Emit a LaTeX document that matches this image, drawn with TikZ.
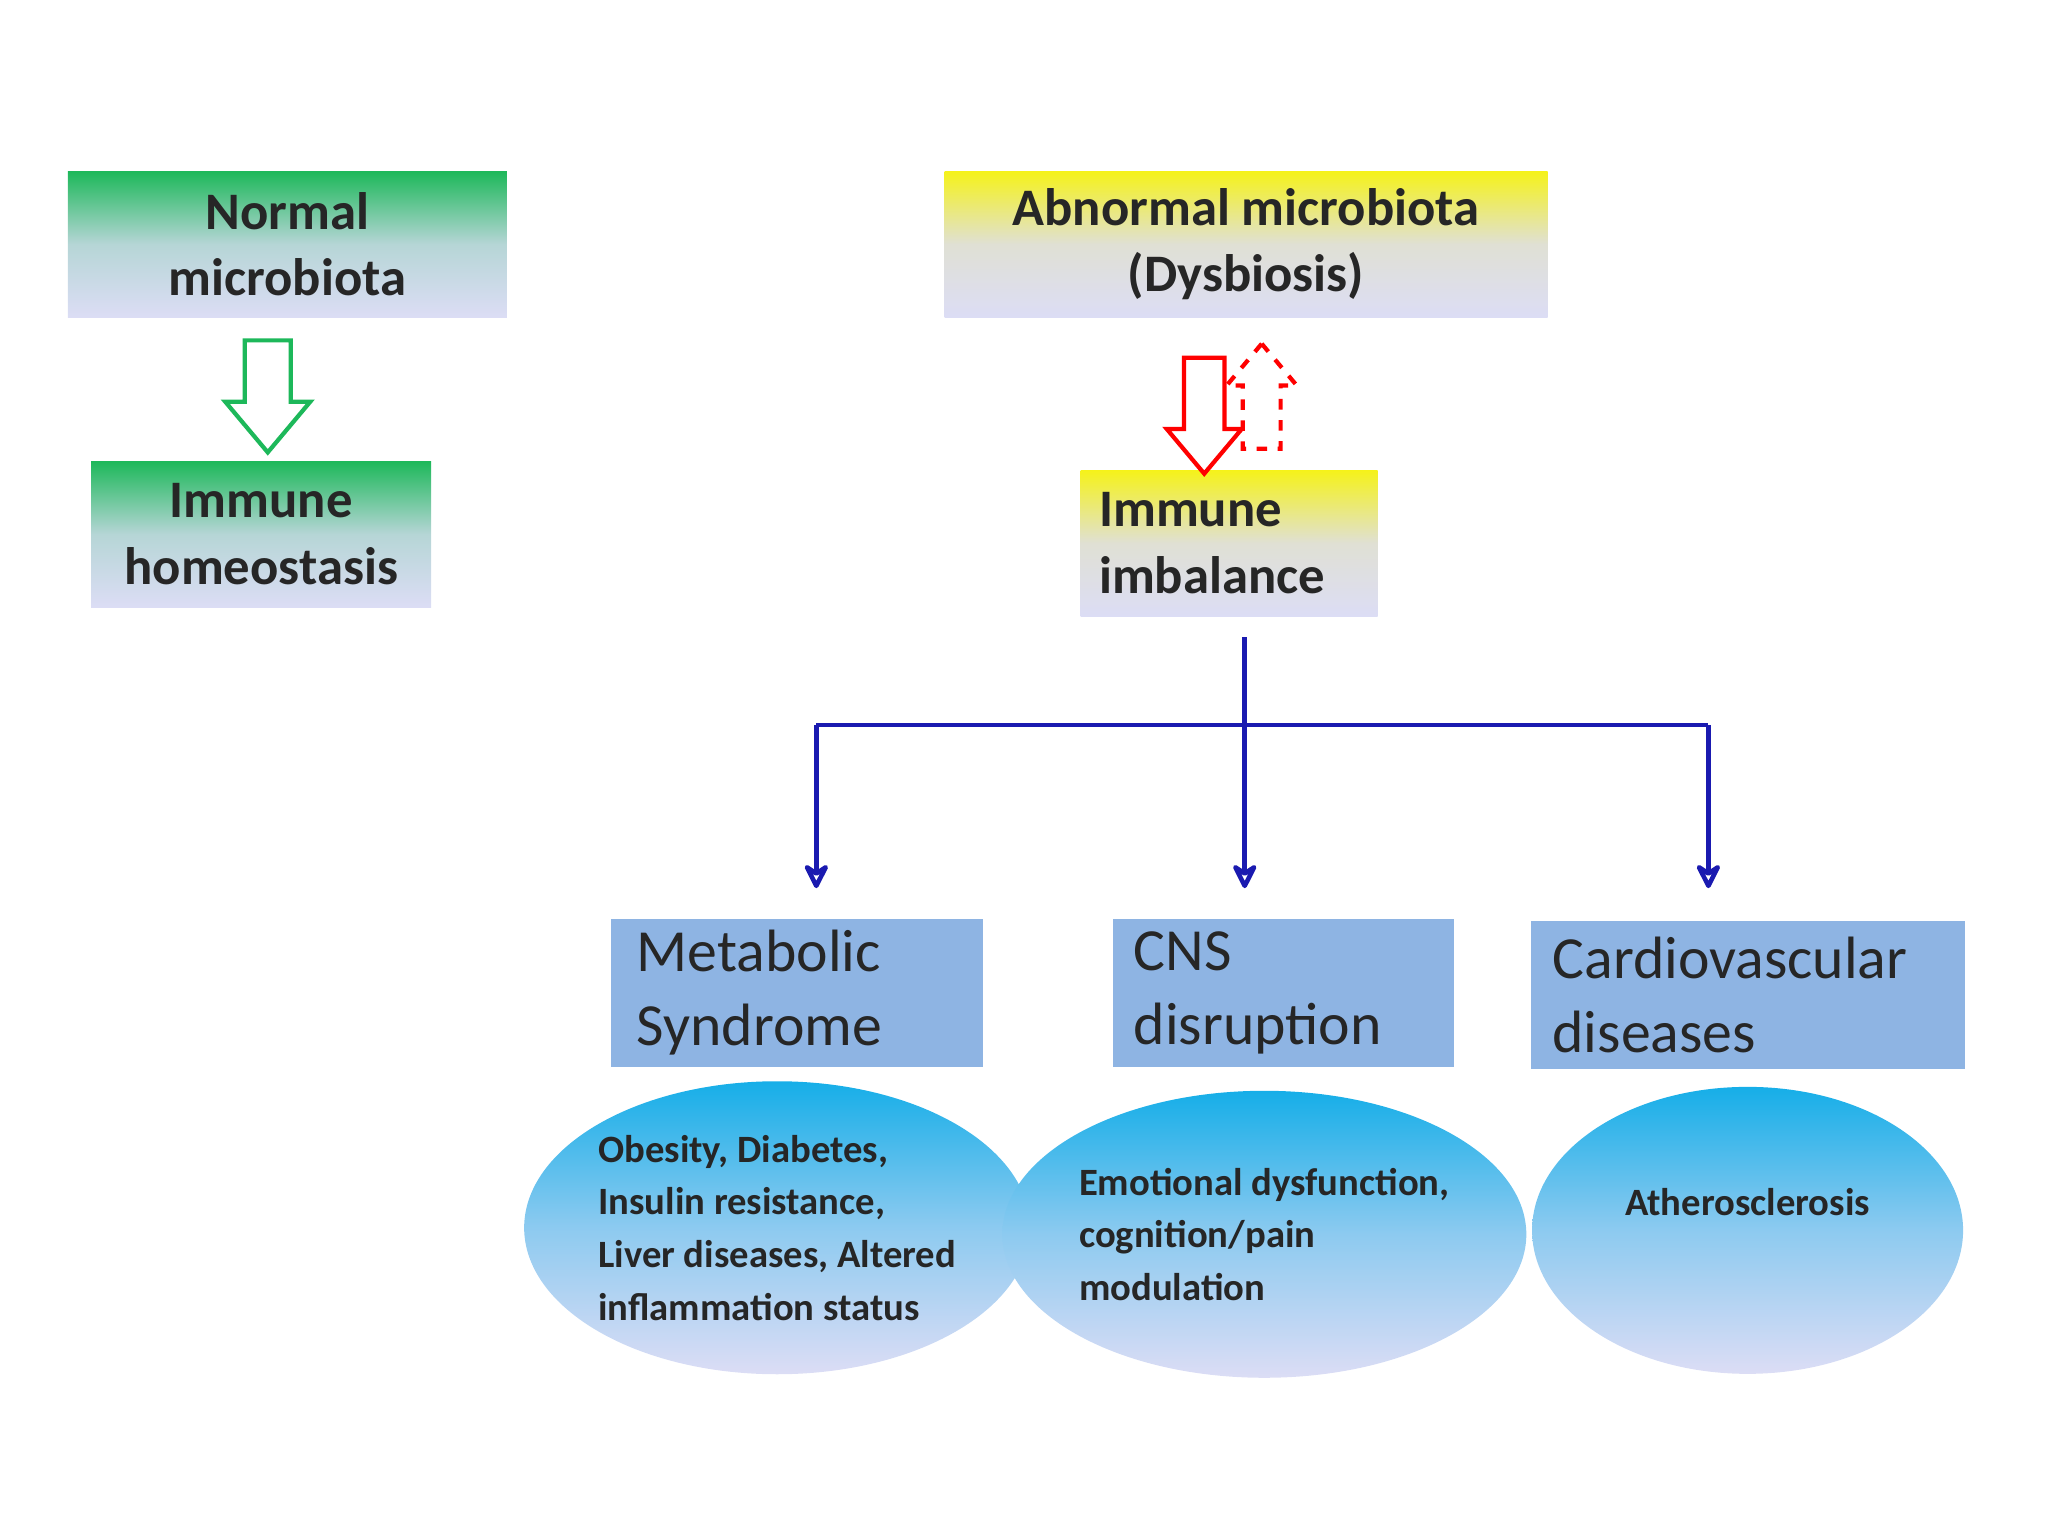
\documentclass[tikz,border=0pt]{standalone}
\usepackage{fontspec}
\setmainfont{Carlito}
\usetikzlibrary{shapes.geometric,shapes.arrows,arrows.meta}
\definecolor{lav}{HTML}{DCDDF5}
\definecolor{grn}{HTML}{1DB85A}
\definecolor{yel}{HTML}{F5F21A}
\definecolor{stb}{HTML}{8EB4E3}
\definecolor{cyn}{HTML}{16AEE8}
\definecolor{dblue}{HTML}{1A1AB0}
\tikzset{
	topbox/.style={minimum width=#1, minimum height=1.46cm, inner sep=0pt, align=center,
		font=\bfseries\fontsize{15}{19}\selectfont, text=black!85},
	normal/.style={topbox=#1, top color=grn, bottom color=lav, middle color=lav!80!grn},
	dysb/.style={topbox=#1, top color=yel, bottom color=lav, middle color=lav!85!yel},
	disease/.style={fill=stb, minimum height=1.48cm, inner sep=0pt, text width=#1, align=left,
		font=\fontsize{17}{21}\selectfont, text=black!85},
	effect/.style={ellipse, top color=cyn, bottom color=lav, middle color=cyn!40!lav, inner sep=0pt,
		font=\bfseries\fontsize{11}{15}\selectfont, text=black!85, align=left},
	hollow/.style={single arrow, draw=#1, line width=1.2pt, fill=white, minimum width=0.85cm,
		single arrow head extend=0.12cm, single arrow tip angle=80, inner sep=0.12cm, shape border rotate=270},
	link/.style={dblue, line width=1.3pt, -{Stealth[length=0.3cm,width=0.3cm,open,round]}}
}
\begin{document}
\begin{tikzpicture}[x=0.01306cm,y=-0.01306cm]
	\useasboundingbox (0,0) rectangle (1568,1176);
	% top row
	\node[normal=4.39cm] (normal) at (220,187) {Normal\\microbiota};
	\node[normal=3.40cm] (homeo) at (200,409) {Immune\\homeostasis};
	\node[dysb=6.03cm] (dysb) at (954,187) {Abnormal microbiota\\(Dysbiosis)};
	\node[dysb=2.97cm, align=left, text width=2.6cm] (imbal) at (941,416) {Immune\\imbalance};
	\node[hollow=grn, minimum height=1.12cm] (ga) at (205,293) {};
	\node[hollow=red, minimum height=1.16cm, minimum width=0.75cm] (ra) at (922,309) {};
	\node[hollow=red, dashed, minimum height=1.05cm, minimum width=0.7cm, shape border rotate=90] (rb) at (966,312) {};
	% diseases
	\node[disease=3.2cm, minimum width=3.72cm] (meta) at (610,760) {Metabolic\\Syndrome};
	\node[disease=3.0cm, minimum width=3.41cm] (cns) at (983,760) {CNS\\disruption};
	\node[disease=3.9cm, minimum width=4.34cm] (card) at (1338,762) {Cardiovascular\\diseases};
	\node[effect, minimum width=4.83cm, minimum height=2.93cm] (e1) at (595,940)
		{Obesity, Diabetes,\\Insulin resistance,\\Liver diseases, Altered\\inflammation status};
	\node[effect, minimum width=4.52cm, minimum height=2.87cm] (e2) at (968,945)
		{Emotional dysfunction,\\cognition/pain\\modulation};
	\node[effect, minimum width=4.31cm, minimum height=2.87cm] (e3) at (1338,942) {\raisebox{3ex}{Atherosclerosis}};
	% connectors
	\coordinate (fork) at (953,555);
	\draw[dblue, line width=1.3pt] ([yshift=-0.2cm]imbal.south -| fork) -- (fork);
	\draw[dblue, line width=1.3pt] (625,555) -- (1308,555);
	\draw[link] (625,555) -- (625,680);
	\draw[link] (fork) -- (953,680);
	\draw[link] (1308,555) -- (1308,680);
\end{tikzpicture}
\end{document}
